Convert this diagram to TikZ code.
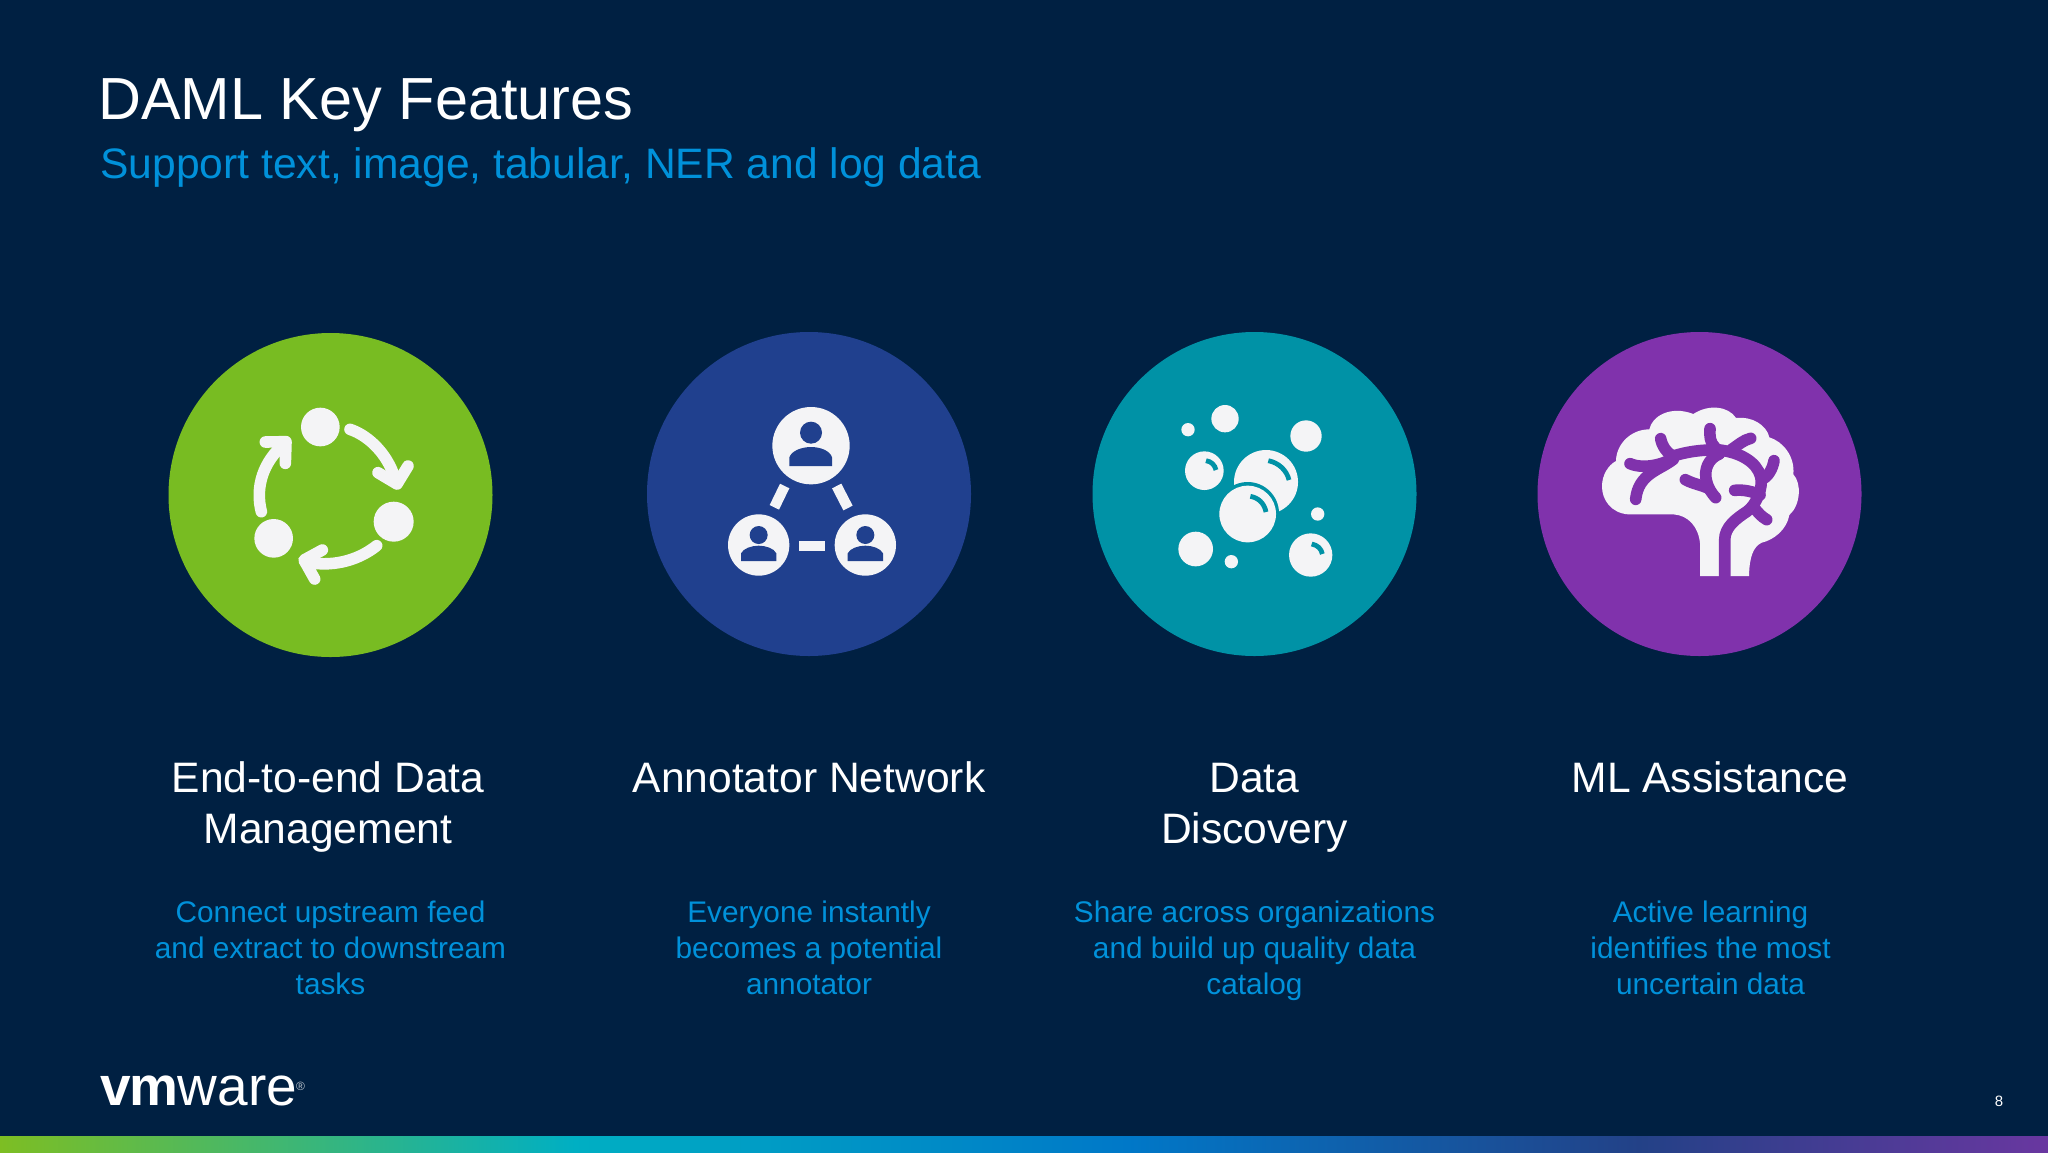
\documentclass[tikz,border=0pt]{standalone}
\usepackage{fontspec}
\setmainfont{Liberation Sans}
\definecolor{bgnavy}{RGB}{0,32,66}
\definecolor{txtblue}{RGB}{0,145,218}
\definecolor{iconwhite}{RGB}{244,244,246}
\definecolor{cgreen}{RGB}{120,188,34}
\definecolor{cblue}{RGB}{32,64,142}
\definecolor{cteal}{RGB}{0,146,166}
\definecolor{cpurple}{RGB}{128,50,172}
\definecolor{bar0}{RGB}{125,190,35}
\definecolor{bar1}{RGB}{0,175,195}
\definecolor{bar2}{RGB}{0,120,200}
\definecolor{bar3}{RGB}{35,65,135}
\definecolor{bar4}{RGB}{105,55,160}
\tikzset{
  titletext/.style={anchor=base west,inner sep=0pt,text=white,font=\fontsize{29.7}{32}\selectfont},
  subtext/.style={anchor=base west,inner sep=0pt,text=txtblue,font=\fontsize{21.3}{26}\selectfont},
  headtext/.style={anchor=north,inner sep=0pt,align=center,text=white,font=\fontsize{21.3}{25.5}\selectfont},
  bodytext/.style={anchor=north,inner sep=0pt,align=center,text=txtblue,font=\fontsize{14.9}{18}\selectfont},
  disc/.style={fill=#1,draw=none},
  iconscope/.style={x=0.16667pt,y=-0.16667pt},
  arrowline/.style={draw=iconwhite,line width=5.8pt,line cap=round,line join=round},
  vein/.style={draw=cpurple,line width=5.8pt,line cap=round,line join=round},
  bubbleglint/.style={draw=cteal,line width=2.4pt},
  link/.style={draw=iconwhite,line width=5.2pt}
}
\begin{document}
\begin{tikzpicture}[x=0.5pt,y=-0.5pt]
\useasboundingbox (0,0) rectangle (2048,1152);
\fill[bgnavy] (0,0) rectangle (2048,1152);
% footer bar
\fill[left color=bar0,right color=bar1,draw=none] (0,1136) rectangle (575,1152);
\fill[left color=bar1,right color=bar2,draw=none] (574,1136) rectangle (1127,1152);
\fill[left color=bar2,right color=bar3,draw=none] (1126,1136) rectangle (1640,1152);
\fill[left color=bar3,right color=bar4,draw=none] (1639,1136) rectangle (2048,1152);
% titles
\node[titletext] (title) at (98,119) {DAML Key Features};
\node[subtext] (subtitle) at (100,178) {Support text, image, tabular, NER and log data};
% discs
\fill[disc=cgreen] (330.5,495) circle (162);
\fill[disc=cblue] (809,494) circle (162);
\fill[disc=cteal] (1254.5,494) circle (162);
\fill[disc=cpurple] (1699.5,494) circle (162);
% icon 1
\begin{scope}[shift={(160,330)},iconscope]
\fill[iconwhite] (481,291) circle (58);
\fill[iconwhite] (701,575) circle (60);
\fill[iconwhite] (341,625) circle (58);
\draw[arrowline] (570,298) .. controls (630,318) and (690,380) .. (708,458);
\draw[arrowline] (654,428) -- (711,462) -- (744,408);
\draw[arrowline] (650,647) .. controls (590,695) and (510,712) .. (435,695);
\draw[arrowline] (487,660) -- (432,690) -- (464,747);
\draw[arrowline] (304,545) .. controls (285,470) and (310,395) .. (372,342);
\draw[arrowline] (316,336) -- (378,335) -- (376,400);
\end{scope}
% icon 2
\begin{scope}[shift={(640,330)},iconscope]
\fill[iconwhite] (513,347) circle (116);
\fill[cblue] (513,308) circle (33);
\fill[cblue] (448,408) -- (448,382) .. controls (455,362) and (485,351) .. (513,351) .. controls (541,351) and (570,362) .. (576,382) -- (576,408) -- cycle;
\fill[iconwhite] (356,645) circle (92);
\fill[cblue] (356,615) circle (27);
\fill[cblue] (303,693) -- (303,670) .. controls (310,655) and (335,647) .. (356,647) .. controls (377,647) and (402,655) .. (409,670) -- (409,693) -- cycle;
\fill[iconwhite] (676,645) circle (92);
\fill[cblue] (676,615) circle (27);
\fill[cblue] (623,693) -- (623,670) .. controls (630,655) and (655,647) .. (676,647) .. controls (697,647) and (722,655) .. (729,670) -- (729,693) -- cycle;
\draw[link] (434,468) -- (403,532);
\draw[link] (590,468) -- (624,534);
\draw[link] (478,648) -- (556,648);
\end{scope}
% icon 3
\begin{scope}[shift={(1085,330)},iconscope]
\fill[iconwhite] (309,299) circle (20);
\fill[iconwhite] (420,266) circle (41);
\fill[iconwhite] (663,318) circle (47);
\fill[iconwhite] (358,422) circle (58);
\draw[bubbleglint] (363,392) .. controls (378,394) and (390,405) .. (393,420);
\fill[iconwhite] (543,456) circle (96);
\draw[bubbleglint] (550,392) .. controls (580,398) and (605,420) .. (612,450);
\fill[cteal] (488,550) circle (94);
\fill[iconwhite] (488,552) circle (85);
\draw[bubbleglint] (496,499) .. controls (520,503) and (538,520) .. (543,546);
\fill[iconwhite] (698,552) circle (20);
\fill[iconwhite] (332,657) circle (52);
\fill[iconwhite] (439,695) circle (20);
\fill[iconwhite] (677,675) circle (65);
\draw[bubbleglint] (680,642) .. controls (697,645) and (709,656) .. (712,672);
\end{scope}
% icon 4
\begin{scope}[shift={(1530,330)},iconscope]
\fill[iconwhite] (510,738) -- (510,640)
  .. controls (505,590) and (475,556) .. (430,553)
  -- (295,553)
  .. controls (245,550) and (215,510) .. (216,468)
  .. controls (216,435) and (235,405) .. (258,393)
  .. controls (258,345) and (300,298) .. (358,298)
  .. controls (365,260) and (420,225) .. (490,252)
  .. controls (535,222) and (595,228) .. (618,264)
  .. controls (665,258) and (710,285) .. (718,322)
  .. controls (760,335) and (795,380) .. (790,433)
  .. controls (815,460) and (812,525) .. (778,555)
  .. controls (770,600) and (730,630) .. (695,638)
  .. controls (670,650) and (658,680) .. (657,738)
  -- cycle;
\draw[vein] (584,738) -- (584,630) .. controls (584,590) and (620,565) .. (650,545)
  .. controls (680,525) and (700,470) .. (692,440)
  .. controls (680,395) and (630,368) .. (570,360)
  .. controls (520,358) and (470,365) .. (430,378);
\draw[vein] (430,378) .. controls (410,370) and (395,345) .. (392,326);
\draw[vein] (430,382) .. controls (410,400) and (345,420) .. (300,401);
\draw[vein] (430,388) .. controls (390,420) and (325,430) .. (317,508);
\draw[vein] (555,352) .. controls (540,340) and (538,315) .. (540,296);
\draw[vein] (605,358) .. controls (625,345) and (640,330) .. (662,325);
\draw[vein] (568,372) .. controls (535,385) and (520,420) .. (530,455) .. controls (535,475) and (545,490) .. (557,503);
\draw[vein] (466,449) .. controls (490,462) and (515,465) .. (535,475);
\draw[vein] (614,481) .. controls (640,478) and (670,485) .. (690,495);
\draw[vein] (696,448) .. controls (715,440) and (728,415) .. (732,392);
\draw[vein] (670,530) .. controls (685,550) and (695,560) .. (710,569);
\end{scope}
% headings
\node[headtext] (h1) at (328,761) {End-to-end Data\\Management};
\node[headtext] (h2) at (809,761) {Annotator Network};
\node[headtext] (h3) at (1254.5,761) {\vphantom{d}Data\\Discovery};
\node[headtext] (h4) at (1710,761) {ML Assistance};
% bodies
\node[bodytext] (b1) at (330.5,900.5) {Connect upstream feed\\and extract to downstream\\tasks};
\node[bodytext] (b2) at (809,900.5) {Everyone instantly\\becomes a potential\\annotator};
\node[bodytext] (b3) at (1254.5,900.5) {Share across organizations\\and build up quality data\\catalog};
\node[bodytext] (b4) at (1710.5,900.5) {Active learning\\identifies the most\\uncertain data};
% logo
\node[anchor=base west,inner sep=0pt,text=white,font=\fontsize{27.5}{30}\selectfont] (logo) at (100,1105)
  {\textbf{v\kern-0.5pt m}\kern-0.5pt ware\kern-0.5pt\raisebox{7.5pt}{\fontsize{6}{6}\selectfont\textcolor{white!75!bgnavy}{®}}};
% page number
\node[anchor=center,inner sep=0pt,text=white,font=\fontsize{7.5}{9}\selectfont] (pagenum) at (1999,1101) {8};
\end{tikzpicture}
\end{document}
